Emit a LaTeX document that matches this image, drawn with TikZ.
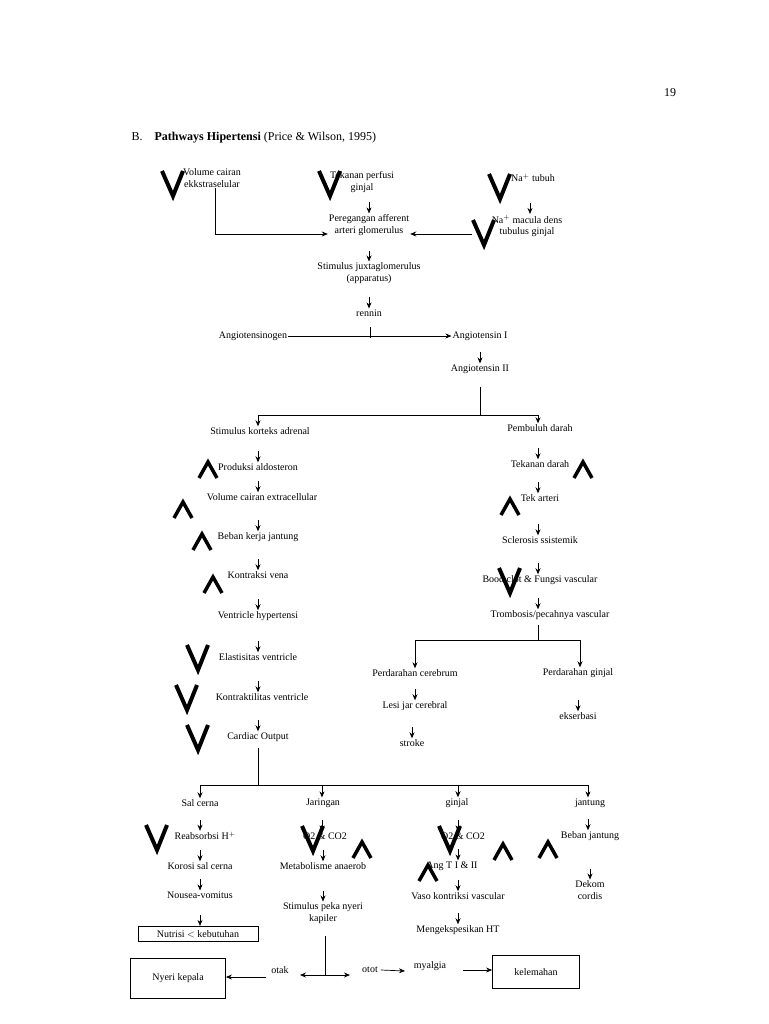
\documentclass[tikz,border=0pt]{standalone}
\usepackage{fontspec}
\setmainfont{Liberation Serif}
\usetikzlibrary{arrows.meta}
\newcommand{\vd}[2]{\draw[line width=4pt,line join=miter] (#1-11,#2-12)--(#1,#2+13)--(#1+10,#2-12);}
\newcommand{\vu}[2]{\draw[line width=3.5pt,line join=miter] (#1-9,#2+8)--(#1,#2-8)--(#1+9,#2+8);}
\newcommand{\sa}[2]{\path (#1.north -| #2,0) coordinate (tmpa); \draw[ln,ar] ([yshift=11pt]tmpa) -- (tmpa);}
\begin{document}
\begin{tikzpicture}[x=1pt,y=-1pt,font=\fontsize{10}{11.5}\selectfont,
  t/.style={inner sep=1pt,align=center},
  box/.style={draw,thick,inner sep=4pt},
  ar/.style={-{Stealth[length=6pt,width=5pt]}},
  ln/.style={line width=0.7pt}]
\useasboundingbox (0,0) rectangle (768,1024);
\node (pg) at (670,93) {\fontsize{12}{14}\selectfont 19};
\node[anchor=west] (title) at (128,138) {\fontsize{12}{14}\selectfont B.\quad\textbf{Pathways Hipertensi} (Price \& Wilson, 1995)};
% top
\node[t] (vol) at (212,178) {Volume cairan\\ekkstraselular};
\node[t] (tek) at (362,182) {Tekanan perfusi\\ginjal};
\node[t] (na) at (533,178) {Na$^{+}$ tubuh};
\node[t] (per) at (369,225) {Peregangan afferent\\arteri glomerulus};
\node[t] (nam) at (527,226) {Na$^{+}$ macula dens\\tubulus ginjal};
\node[t] (stj) at (369,273) {Stimulus juxtaglomerulus\\(apparatus)};
\node[t] (ren) at (369,313) {rennin};
\node[t] (ang0) at (253,336) {Angiotensinogen};
\node[t] (ang1) at (480,336) {Angiotensin I};
\node[t] (ang2) at (480,369) {Angiotensin II};
\vd{173}{183}\vd{330}{183}\vd{500}{186}\vd{484}{232}
\sa{per}{369}\sa{nam}{530}\sa{stj}{369}\sa{ren}{369}\sa{ang2}{480}
\draw[ln,ar] (vol.south -| 215,0) |- (per.west |- 0,234);
\draw[ln,ar] (472,234) -- (per.east |- 0,234);
\draw[ln,ar] (ang0.east) -- (ang1.west);
\draw[ln] (370,327) -- (370,338);
\coordinate (sp1) at (480,415);
\draw[ln] (ang2.south)++(0,12) -- (sp1);
% left column
\node[t] (ska) at (260,431) {Stimulus korteks adrenal};
\node[t] (pal) at (258,467) {Produksi aldosteron};
\node[t] (vce) at (262,497) {Volume cairan extracellular};
\node[t] (bkj) at (258,537) {Beban kerja jantung};
\node[t] (kv) at (258,575) {Kontraksi vena};
\node[t] (vh) at (258,616) {Ventricle hypertensi};
\node[t] (ev) at (258,657) {Elastisitas ventricle};
\node[t] (kov) at (262,697) {Kontraktilitas ventricle};
\node[t] (co) at (258,737) {Cardiac Output};
\vu{208}{470}\vu{183}{510}\vu{202}{542}\vu{213}{585}
\vd{198}{657}\vd{187}{697}\vd{198}{737}
\foreach \b in {pal,vce,bkj,kv,vh,ev,kov,co}{\sa{\b}{258}}
% right column
\node[t] (pd) at (540,428) {Pembuluh darah};
\node[t] (td) at (540,464) {Tekanan darah};
\node[t] (ta) at (540,498) {Tek arteri};
\node[t] (ss) at (540,540) {Sclerosis ssistemik};
\node[t] (bc) at (540,580) {Bood clot \& Fungsi vascular};
\node[t] (tp) at (550,615) {Trombosis/pecahnya vascular};
\vu{583}{470}\vu{510}{507}\vd{510}{580}
\foreach \b in {td,ta,ss,bc,tp}{\sa{\b}{538}}
\draw[ln] (258,415) -- (538,415);
\draw[ln,ar] (258,415) -- (ska.north -| 258,0);
\draw[ln,ar] (538,415) -- (pd.north -| 538,0);
\node[t] (pc) at (415,673) {Perdarahan cerebrum};
\node[t] (pg2) at (578,673) {Perdarahan ginjal};
\node[t] (lj) at (415,706) {Lesi jar cerebral};
\node[t] (eks) at (578,716) {ekserbasi};
\node[t] (stk) at (412,743) {stroke};
\draw[ln] (tp.south -| 538,0) ++(0,4) -- (538,640);
\draw[ln] (415,640) -- (580,640);
\draw[ln,ar] (415,640) -- (pc.north -| 415,0);
\draw[ln,ar] (580,640) -- (pg2.north -| 580,0);
\sa{lj}{415}\sa{eks}{578}\sa{stk}{412}
% bottom
\draw[ln] (co.south -| 258,0)++(0,5) -- (258,785);
\draw[ln] (200,785) -- (588,785);
\node[t] (sc) at (200,803) {Sal cerna};
\node[t] (jar) at (323,803) {Jaringan};
\node[t] (gin) at (457,803) {ginjal};
\node[t] (jan) at (590,803) {jantung};
\foreach \n/\x in {sc/200,jar/322,gin/458,jan/588}{\draw[ln,ar] (\x,785) -- (\n.north -| \x,0);}
\node[t] (reh) at (205,836) {Reabsorbsi H$^{+}$};
\node[t] (kor) at (200,866) {Korosi sal cerna};
\node[t] (nv) at (200,895) {Nousea-vomitus};
\node[box,minimum width=120pt] (nut) at (198,934) {Nutrisi $<$ kebutuhan};
\sa{reh}{200}\sa{kor}{200}\sa{nv}{200}\sa{nut}{200}
\vd{157}{837}
\node[t] (oc1) at (325,836) {O2 \& CO2};
\node[t] (ma) at (323,866) {Metabolisme anaerob};
\node[t] (spn) at (323,913) {Stimulus peka nyeri\\kapiler};
\sa{oc1}{322}\sa{ma}{323}\sa{spn}{323}
\vd{313}{838}\vu{362}{850}
\node[t] (oc2) at (463,836) {O2 \& CO2};
\node[t] (ati) at (452,866) {Ang T I \& II};
\node[t] (vkv) at (458,896) {Vaso kontriksi vascular};
\node[t] (mht) at (458,930) {Mengekspesikan HT};
\sa{oc2}{458}\sa{ati}{458}\sa{vkv}{458}\sa{mht}{458}
\vd{450}{838}\vu{503}{852}\vu{428}{873}
\node[t] (bj) at (590,836) {Beban jantung};
\node[t] (dc) at (590,890) {Dekom\\cordis};
\sa{bj}{588}\sa{dc}{590}
\vu{548}{850}
% lowest row
\coordinate (fork) at (325,975);
\node[t] (otak) at (280,970) {otak};
\node[t] (otot) at (370,970) {otot};
\node[t] (mya) at (430,966) {myalgia};
\node[box,minimum width=95pt,minimum height=40pt] (nk) at (178,978) {Nyeri kepala};
\node[box,minimum width=87pt,minimum height=33pt] (kel) at (536,972) {kelemahan};
\draw[ln] (spn.south -| fork) ++(0,12) -- (fork);
\draw[ln,ar] (fork) -- (300,975);
\draw[ln,ar] (fork) -- (350,975);
\draw[ln,ar] (otak.west)++(-4,7) -- (nk.east |- 0,977);
\draw[ln,ar] (otot.east)++(2,0) -- (405,971);
\draw[ln,ar] (463,970) -- (kel.west |- 0,970);
\end{tikzpicture}
\end{document}
